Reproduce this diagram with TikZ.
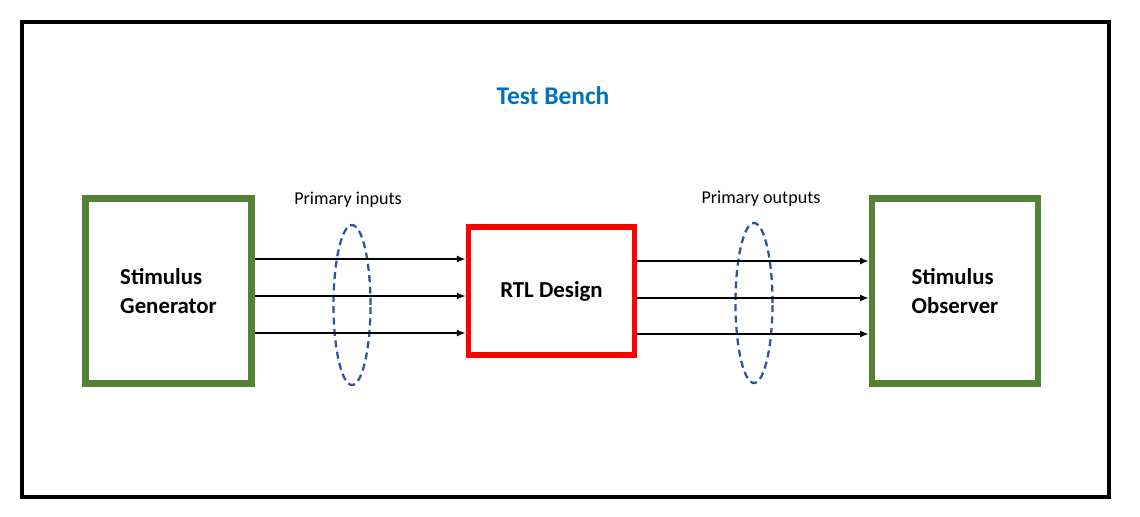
\documentclass[tikz,border=0pt]{standalone}
\usepackage{fontspec}
\setmainfont{Carlito}
\usetikzlibrary{arrows.meta,positioning,shapes.geometric}
\definecolor{boxgreen}{HTML}{548235}
\definecolor{busblue}{HTML}{2F5597}
\definecolor{titleblue}{HTML}{0070C0}
\tikzset{
  block/.style={draw, line width=3.6pt, minimum width=3.32cm, minimum height=3.7cm, align=left, font=\fontsize{13}{16}\selectfont\bfseries},
  bus/.style={draw=busblue, dash pattern=on 4pt off 2.5pt, line width=1.3pt, ellipse, minimum width=0.74cm, minimum height=3.2cm},
  wire/.style={-{Latex[length=5pt,width=4pt]}, line width=1pt}
}
\begin{document}
\begin{tikzpicture}
        \useasboundingbox (0,0) rectangle (22.8,10.32);
        % Frame
        \draw[line width=1.8pt] (0.44,0.38) rectangle (22.18,9.88);
        \node (title) at (11.06,8.4) [text=titleblue, font=\fontsize{14.5}{17}\selectfont\bfseries] {Test Bench};
        % Blocks
        \node (gen) at (3.37,4.5) [block, draw=boxgreen] {Stimulus\\Generator};
        \node (rtl) at (11.03,4.5) [block, draw=red, line width=3.2pt, minimum width=3.32cm, minimum height=2.56cm] {RTL Design};
        \node (obs) at (19.1,4.5) [block, draw=boxgreen] {Stimulus\\Observer};
        % Buses
        \node (inbus) at (7.04,4.22) [bus] {};
        \node (outbus) at (15.08,4.26) [bus] {};
        \node (inlbl) at (6.96,6.32) [font=\fontsize{10.3}{12}\selectfont] {Primary inputs};
        \node (outlbl) at (15.22,6.34) [font=\fontsize{10.3}{12}\selectfont] {Primary outputs};
        % Wires
        \foreach \i/\y in {1/5.14,2/4.4,3/3.66} {
          \coordinate (a\i) at (gen.east |- 0,\y);
          \coordinate (b\i) at (rtl.west |- 0,\y);
          \draw[wire] (a\i) -- (b\i);
        }
        \foreach \i/\y in {1/5.1,2/4.36,3/3.64} {
          \coordinate (c\i) at (rtl.east |- 0,\y);
          \coordinate (d\i) at (obs.west |- 0,\y);
          \draw[wire] (c\i) -- (d\i);
        }
    \end{tikzpicture}
\end{document}
